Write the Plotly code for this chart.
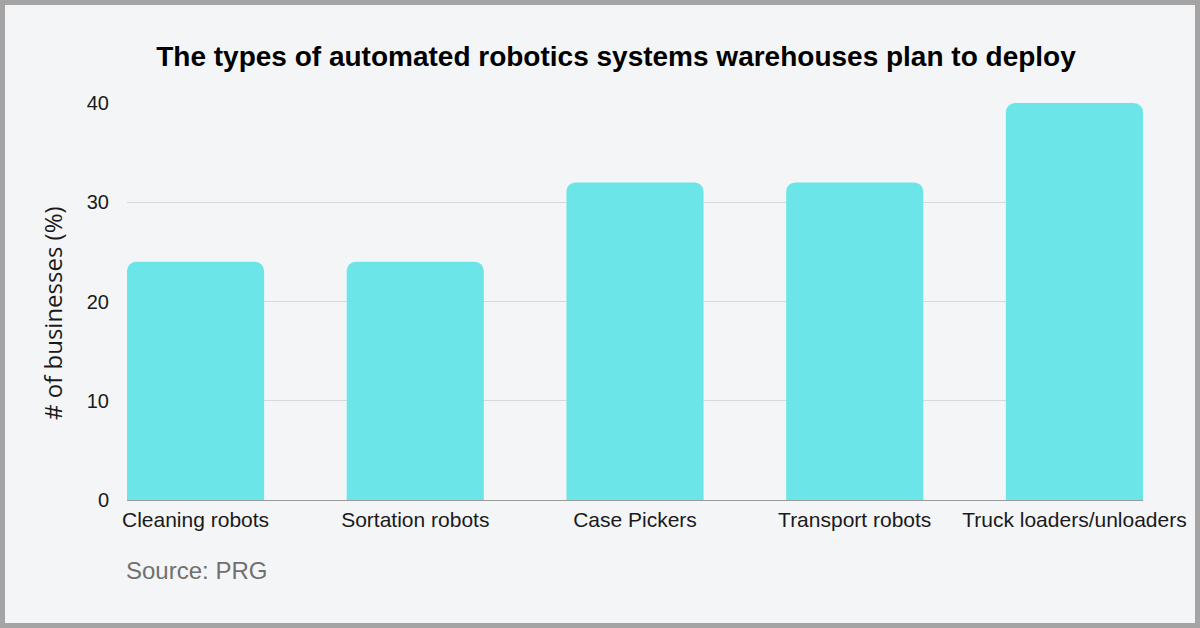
import plotly.graph_objects as go

categories = ["Cleaning robots", "Sortation robots", "Case Pickers", "Transport robots", "Truck loaders/unloaders"]
values = [24, 24, 32, 32, 40]
y_ticks = [0, 10, 20, 30, 40]

W, H = 1200, 628
L, R, T, B = 127, 57, 103, 128
PW, PH = W - L - R, H - T - B

def px_x(px):
    return (px - L) / PW

def px_y(py):
    return (H - B - py) / PH

fig = go.Figure(go.Bar(
    x=categories, y=values,
    marker=dict(color="#6be5e8", cornerradius=9, line=dict(width=0)),
    hoverinfo="x+y",
))

fig.update_layout(
    width=W, height=H,
    margin=dict(l=L, r=R, t=T, b=B, pad=0),
    paper_bgcolor="#f4f5f7", plot_bgcolor="#f4f5f7",
    bargap=0.376,
    font=dict(family="Liberation Sans, Arial, sans-serif", color="#1a1a1a"),
    title=dict(text="<b>The types of automated robotics systems warehouses plan to deploy</b>",
               x=616 / W, xanchor="center", xref="container",
               y=1 - 56 / H, yanchor="middle", yref="container",
               font=dict(size=28, color="#000000")),
    showlegend=False,
)

fig.update_xaxes(range=[-0.312, 4.312], showgrid=False, showline=False, zeroline=False,
                 ticks="", tickfont=dict(size=21, color="#1a1a1a"), ticklabelstandoff=5,
                 fixedrange=True)
fig.update_yaxes(range=[0, 40], tickvals=y_ticks, showgrid=True, gridcolor="#d6d8dc", gridwidth=1,
                 zeroline=True, zerolinecolor="#9a9a9a", zerolinewidth=1.2,
                 showline=False, ticks="", tickfont=dict(size=20, color="#1a1a1a"),
                 ticklabelstandoff=17, fixedrange=True)

fig.add_annotation(text="# of businesses (%)", xref="paper", yref="paper",
                   x=px_x(52), y=px_y(313), xanchor="center", yanchor="middle", textangle=-90,
                   showarrow=False, font=dict(family="Open Sans, Noto Sans, sans-serif", size=24, color="#1a1a1a"))

fig.add_annotation(text="Source: PRG", xref="paper", yref="paper",
                   x=px_x(124), y=px_y(570), xanchor="left", yanchor="middle",
                   showarrow=False, font=dict(size=24, color="#707070"))

fig.add_shape(type="rect", xref="paper", yref="paper",
              x0=px_x(2.5), x1=px_x(1197.5), y0=px_y(625.5), y1=px_y(2.5),
              line=dict(color="#a4a4a4", width=5), fillcolor="rgba(0,0,0,0)", layer="above")

fig.write_html("out.html")
